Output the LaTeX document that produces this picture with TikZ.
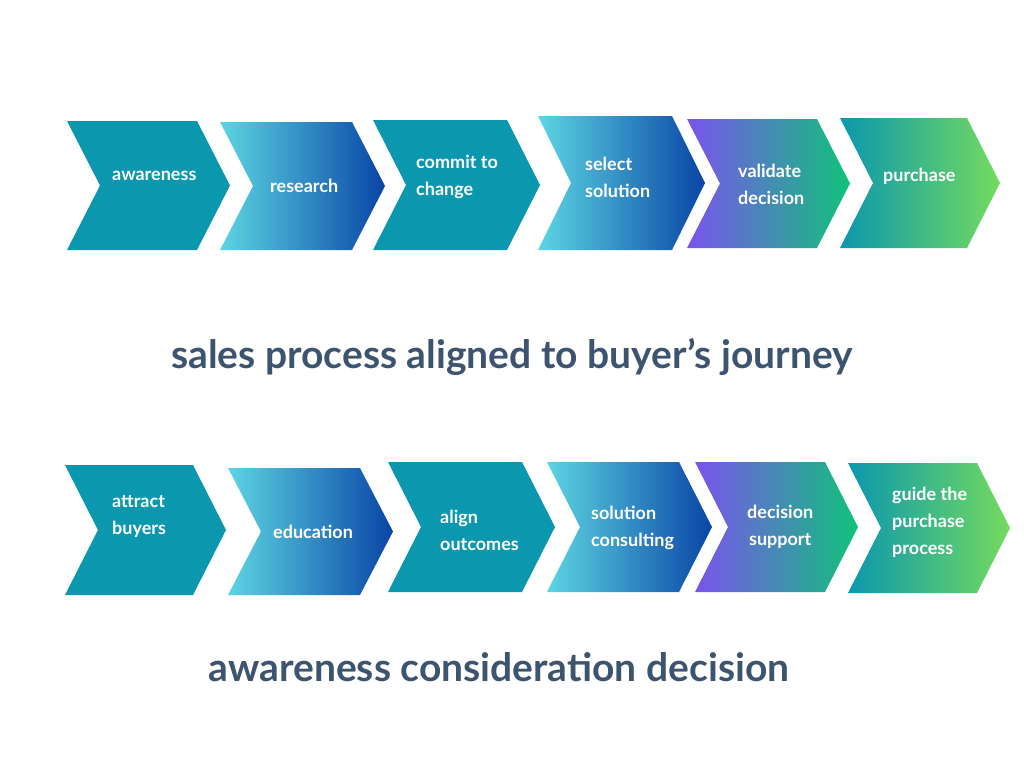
\documentclass[tikz,border=0pt]{standalone}
\usepackage{fontspec}
\setmainfont{Lato}
\begin{document}
\begin{tikzpicture}[x=1pt,y=-1pt,
  lab/.style={anchor=west,text=white,font=\fontsize{18}{27}\selectfont\bfseries,align=left,inner sep=0},
  ttl/.style={text=titc,font=\fontsize{39}{44}\selectfont\bfseries,inner sep=0},
  teal/.style={fill=tealc},
  blu/.style={left color=cyanc,right color=bluec},
  pur/.style={left color=purc,right color=greenc},
  grn/.style={left color=tealc,right color=limec}]
\definecolor{tealc}{HTML}{0B97AE}
\definecolor{cyanc}{HTML}{5CD5E2}
\definecolor{bluec}{HTML}{0A45A6}
\definecolor{purc}{HTML}{7B53EE}
\definecolor{greenc}{HTML}{10C27A}
\definecolor{limec}{HTML}{74DB5E}
\definecolor{titc}{HTML}{3D5470}
\useasboundingbox (0,0) rectangle (1024,768);
\fill[white] (0,0) rectangle (1024,768);
\newcommand{\chev}[5]{\path[#5] (#1,#3) -- ({#2-33},#3) -- (#2,{(#3+#4)/2}) -- ({#2-33},#4) -- (#1,#4) -- ({#1+33},{(#3+#4)/2}) -- cycle;}
\chev{67}{230}{121}{250}{teal}
\chev{220}{385}{122}{250}{blu}
\chev{373}{540}{120}{250}{teal}
\chev{538}{705}{116}{250}{blu}
\chev{687}{850}{119}{248}{pur}
\chev{840}{1000}{118}{248}{grn}
\chev{65}{226}{465}{595}{teal}
\chev{228}{393}{468}{595}{blu}
\chev{388}{555}{462}{592}{teal}
\chev{547}{712}{462}{592}{blu}
\chev{695}{858}{462}{592}{pur}
\chev{848}{1010}{463}{593}{grn}
\node[lab] (t1) at (112,176) {awareness};
\node[lab] (t2) at (270,186) {research};
\node[lab] (t3) at (416,177) {commit to\\change};
\node[lab] (t4) at (585,177) {select\\solution};
\node[lab] (t5) at (738,184) {validate\\decision};
\node[lab] (t6) at (883,176) {purchase};
\node[lab] (b1) at (112,516) {attract\\buyers};
\node[lab] (b2) at (273,532) {education};
\node[lab] (b3) at (440,530) {align\\outcomes};
\node[lab] (b4) at (591,528) {solution\\consulting};
\node[lab,align=center] (b5) at (747,527) {decision\\support};
\node[lab] (b6) at (892,522) {guide the\\purchase\\process};
\node[ttl] (h1) at (512,357) {sales process aligned to buyer’s journey};
\node[ttl] (h2) at (499,667) {awareness consideration decision};
\end{tikzpicture}
\end{document}
